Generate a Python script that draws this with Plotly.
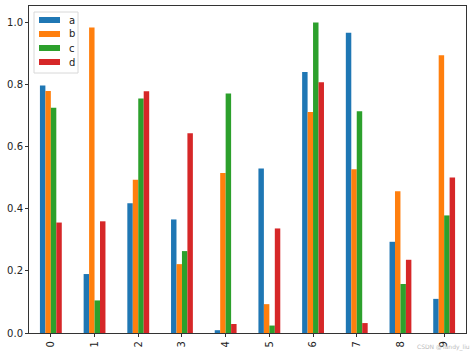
import plotly.graph_objects as go

categories = ["0", "1", "2", "3", "4", "5", "6", "7", "8", "9"]
series_names = ["a", "b", "c", "d"]
a_vals = [0.798, 0.190, 0.418, 0.366, 0.009, 0.530, 0.841, 0.968, 0.294, 0.110]
b_vals = [0.780, 0.985, 0.494, 0.222, 0.516, 0.093, 0.712, 0.528, 0.457, 0.895]
c_vals = [0.726, 0.105, 0.756, 0.264, 0.772, 0.024, 1.001, 0.715, 0.158, 0.379]
d_vals = [0.356, 0.360, 0.779, 0.644, 0.029, 0.337, 0.808, 0.032, 0.236, 0.501]
colors = ["#1f77b4", "#ff7f0e", "#2ca02c", "#d62728"]
y_ticks = [0.0, 0.2, 0.4, 0.6, 0.8, 1.0]

W, H = 474, 353
ml, mr, mt, mb = 29, 8, 6, 20
pw, ph = W - ml - mr, H - mt - mb

fig = go.Figure()
for name, vals, col in zip(series_names, [a_vals, b_vals, c_vals, d_vals], colors):
    fig.add_trace(go.Bar(x=categories, y=vals, name=name, marker_color=col,
                         marker_line_width=0, showlegend=False))

font = dict(family="DejaVu Sans", size=10, color="#222")
fig.update_layout(
    width=W, height=H,
    margin=dict(l=ml, r=mr, t=mt, b=mb, autoexpand=False),
    barmode="group", bargap=0.5, bargroupgap=0,
    plot_bgcolor="white", paper_bgcolor="white",
    font=font,
    xaxis=dict(type="category", range=[-0.5, 9.5], tickangle=-90,
               showline=True, linecolor="#333", linewidth=1, mirror=True,
               ticks="outside", ticklen=3, tickcolor="#333", showgrid=False,
               automargin=False),
    yaxis=dict(range=[0, 1.054], tickvals=y_ticks, ticktext=[f"{v:.1f}" for v in y_ticks],
               showline=True, linecolor="#333", linewidth=1, mirror=True,
               ticks="outside", ticklen=3, tickcolor="#333", showgrid=False,
               zeroline=False, automargin=False),
)

def px_x(x):
    return (x - ml) / pw

def px_y(y):
    return (H - mb - y) / ph

# legend box (matplotlib-style)
fig.add_shape(type="rect", xref="paper", yref="paper",
              x0=px_x(34), x1=px_x(78), y0=px_y(73), y1=px_y(12),
              line=dict(color="#d8d8d8", width=1), fillcolor="rgba(255,255,255,0.8)",
              layer="above")
for i, (name, col) in enumerate(zip(series_names, colors)):
    yc = 20 + i * 14
    fig.add_shape(type="rect", xref="paper", yref="paper",
                  x0=px_x(39), x1=px_x(60), y0=px_y(yc + 3), y1=px_y(yc - 3),
                  line=dict(width=0), fillcolor=col, layer="above")
    fig.add_annotation(xref="paper", yref="paper", x=px_x(67), y=px_y(yc),
                       text=name, showarrow=False, xanchor="left", yanchor="middle",
                       font=dict(family="DejaVu Sans", size=10, color="#222"))

fig.add_annotation(xref="paper", yref="paper", x=px_x(472), y=px_y(347),
                   text="CSDN @Tandy_liu", showarrow=False, xanchor="right", yanchor="middle",
                   font=dict(family="DejaVu Sans", size=6, color="#bbbbbb"))

fig.write_html("out.html")
